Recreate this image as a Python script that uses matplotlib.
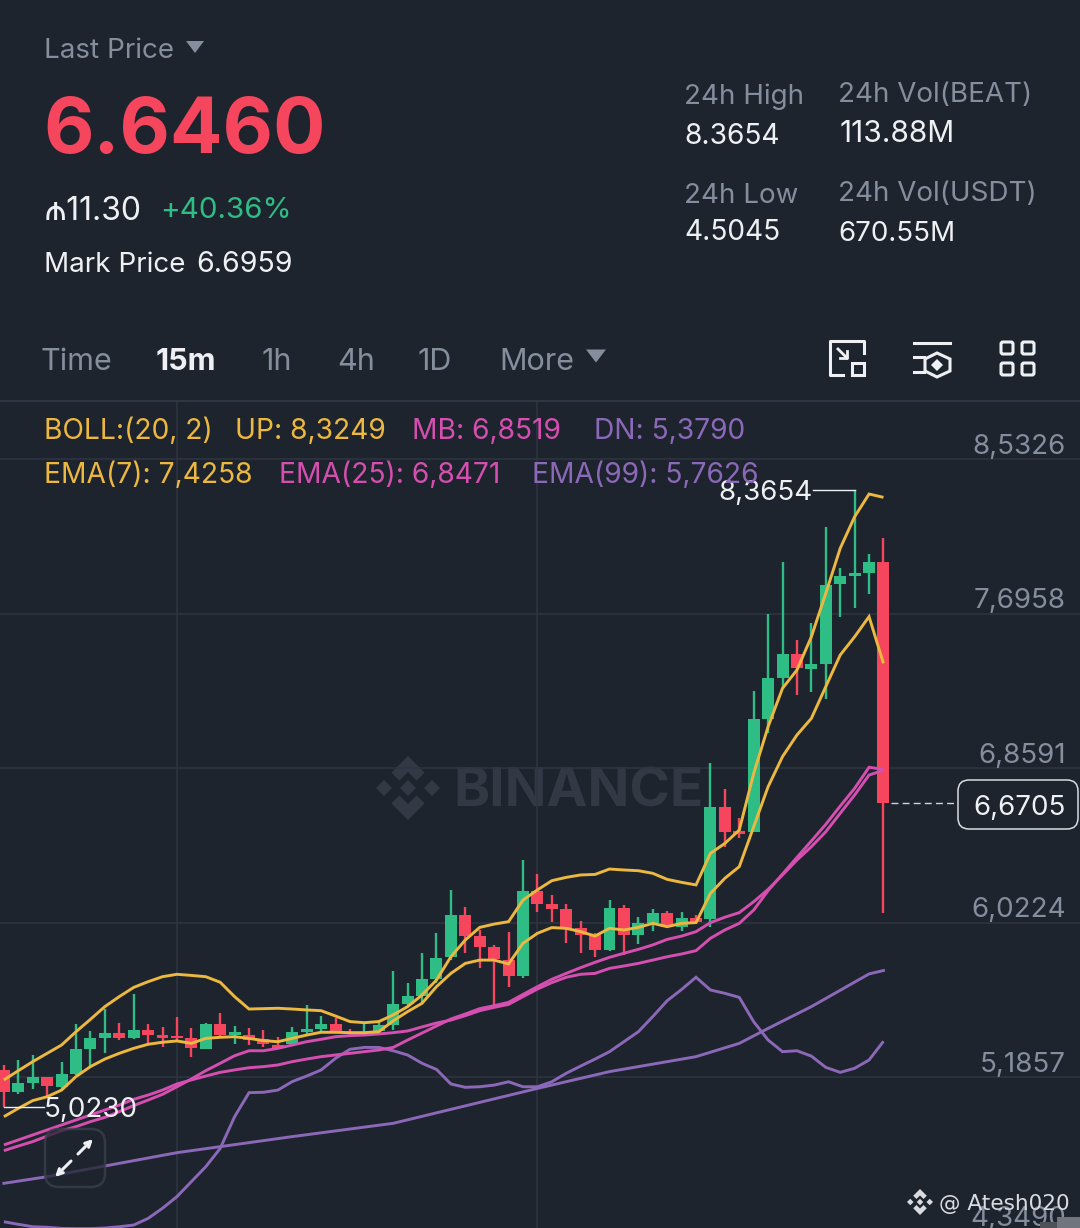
import numpy as np
import matplotlib
matplotlib.use("Agg")
import matplotlib.pyplot as plt
from matplotlib.patches import Polygon, FancyBboxPatch, Rectangle

# candles, one per 15 minutes
opens = [5.224, 5.103, 5.152, 5.184, 5.134, 5.202, 5.336, 5.395, 5.426, 5.395, 5.440, 5.411, 5.410, 5.395, 5.338, 5.473,
         5.413, 5.413, 5.392, 5.359, 5.363, 5.430, 5.444, 5.471, 5.431, 5.426, 5.437, 5.467, 5.581, 5.626, 5.717, 5.834,
         6.063, 5.951, 5.892, 5.819, 5.733, 6.195, 6.123, 6.094, 5.991, 5.955, 5.874, 6.103, 5.955, 6.022, 6.076, 5.996,
         6.045, 6.043, 6.650, 6.520, 6.511, 7.123, 7.347, 7.477, 7.397, 7.421, 7.856, 7.901, 7.917, 7.977]
highs = [5.251, 5.278, 5.305, 5.188, 5.269, 5.471, 5.437, 5.552, 5.476, 5.634, 5.473, 5.458, 5.513, 5.449, 5.480, 5.531,
         5.464, 5.449, 5.440, 5.404, 5.455, 5.576, 5.516, 5.504, 5.446, 5.476, 5.486, 5.760, 5.693, 5.856, 5.964, 6.199,
         6.108, 5.982, 5.901, 5.973, 6.361, 6.283, 6.171, 6.121, 6.031, 5.964, 6.144, 6.117, 6.054, 6.094, 6.085, 6.078,
         6.063, 6.888, 6.745, 6.587, 7.276, 7.693, 7.973, 7.552, 7.643, 8.166, 7.941, 8.3654, 8.018, 8.107]
lows = [5.023, 5.092, 5.119, 5.079, 5.115, 5.197, 5.233, 5.314, 5.386, 5.392, 5.359, 5.350, 5.386, 5.296, 5.338, 5.410,
        5.363, 5.359, 5.350, 5.338, 5.359, 5.413, 5.431, 5.422, 5.413, 5.422, 5.431, 5.440, 5.567, 5.585, 5.693, 5.819,
        5.856, 5.778, 5.576, 5.675, 5.720, 6.078, 6.023, 5.910, 5.856, 5.837, 5.868, 5.847, 5.904, 5.978, 5.991, 5.977,
        6.018, 6.000, 6.433, 6.478, 6.511, 7.047, 7.291, 7.255, 7.269, 7.233, 7.675, 7.728, 7.800, 6.072]
closes = [5.106, 5.152, 5.188, 5.137, 5.202, 5.336, 5.395, 5.426, 5.395, 5.440, 5.411, 5.395, 5.395, 5.341, 5.473, 5.413,
          5.428, 5.386, 5.363, 5.341, 5.430, 5.444, 5.471, 5.431, 5.422, 5.431, 5.467, 5.579, 5.626, 5.717, 5.832, 6.063,
          5.951, 5.892, 5.823, 5.733, 6.195, 6.123, 6.094, 5.991, 5.955, 5.874, 6.099, 5.955, 6.022, 6.076, 5.996, 6.045,
          6.023, 6.650, 6.511, 6.502, 7.123, 7.345, 7.477, 7.399, 7.422, 7.850, 7.899, 7.913, 7.977, 6.6705]

# indicators
boll_up = [5.170, 5.220, 5.269, 5.314, 5.359, 5.431, 5.498, 5.567, 5.621, 5.671, 5.702, 5.729, 5.742, 5.736, 5.729, 5.699,
           5.621, 5.554, 5.556, 5.558, 5.554, 5.549, 5.545, 5.516, 5.486, 5.480, 5.486, 5.522, 5.567, 5.630, 5.711, 5.837,
           5.928, 5.996, 6.014, 6.027, 6.144, 6.199, 6.249, 6.267, 6.280, 6.283, 6.312, 6.307, 6.303, 6.289, 6.256, 6.240,
           6.226, 6.397, 6.451, 6.523, 6.830, 7.083, 7.291, 7.390, 7.570, 7.805, 8.049, 8.220, 8.343, 8.3249]
ema7 = [4.971, 5.016, 5.058, 5.079, 5.115, 5.188, 5.242, 5.283, 5.314, 5.341, 5.363, 5.374, 5.381, 5.368, 5.395, 5.401,
        5.404, 5.395, 5.383, 5.377, 5.395, 5.413, 5.428, 5.428, 5.426, 5.426, 5.431, 5.490, 5.540, 5.585, 5.675, 5.747,
        5.801, 5.819, 5.819, 5.798, 5.910, 5.964, 5.995, 5.991, 5.973, 5.949, 5.991, 5.982, 5.996, 6.018, 6.000, 6.018,
        6.022, 6.180, 6.262, 6.325, 6.541, 6.758, 6.921, 7.038, 7.128, 7.300, 7.471, 7.570, 7.679, 7.4258]
boll_mb = [4.787, 4.812, 4.836, 4.866, 4.895, 4.917, 4.944, 4.967, 4.998, 5.031, 5.061, 5.092, 5.133, 5.175, 5.220, 5.260,
           5.301, 5.328, 5.328, 5.341, 5.359, 5.377, 5.390, 5.404, 5.410, 5.413, 5.419, 5.426, 5.435, 5.457, 5.478, 5.494,
           5.518, 5.545, 5.563, 5.579, 5.621, 5.662, 5.697, 5.726, 5.742, 5.747, 5.774, 5.787, 5.801, 5.819, 5.837, 5.852,
           5.870, 5.937, 5.982, 6.018, 6.090, 6.195, 6.285, 6.375, 6.464, 6.554, 6.653, 6.749, 6.863, 6.8519]
ema25 = [4.818, 4.845, 4.872, 4.899, 4.926, 4.953, 4.980, 5.007, 5.034, 5.065, 5.088, 5.115, 5.148, 5.170, 5.191, 5.211,
         5.224, 5.236, 5.242, 5.251, 5.269, 5.283, 5.296, 5.305, 5.314, 5.323, 5.332, 5.346, 5.386, 5.424, 5.462, 5.500,
         5.527, 5.556, 5.572, 5.590, 5.633, 5.675, 5.715, 5.747, 5.778, 5.807, 5.834, 5.856, 5.877, 5.901, 5.931, 5.949,
         5.973, 6.022, 6.051, 6.076, 6.135, 6.202, 6.280, 6.361, 6.433, 6.514, 6.614, 6.713, 6.821, 6.8471]
boll_dn = [4.402, 4.388, 4.375, 4.372, 4.366, 4.365, 4.365, 4.368, 4.375, 4.384, 4.420, 4.475, 4.538, 4.619, 4.700, 4.799,
           4.971, 5.101, 5.103, 5.115, 5.161, 5.191, 5.224, 5.287, 5.336, 5.346, 5.346, 5.328, 5.305, 5.260, 5.227, 5.148,
           5.130, 5.133, 5.142, 5.160, 5.133, 5.133, 5.160, 5.206, 5.245, 5.283, 5.323, 5.377, 5.431, 5.513, 5.599, 5.660,
           5.726, 5.657, 5.639, 5.617, 5.485, 5.386, 5.323, 5.328, 5.299, 5.238, 5.211, 5.233, 5.278, 5.3790]
ema99_idx = [0, 3, 12, 20, 27, 37, 42, 46, 48, 51, 53, 56, 60, 61]
ema99 = [4.610, 4.646, 4.776, 4.863, 4.935, 5.124, 5.215, 5.269, 5.296, 5.368, 5.449, 5.567, 5.744, 5.7626]

price_ticks = [8.5326, 7.6958, 6.8591, 6.0224, 5.1857, 4.3490]
time_ticks = [12, 37]
last_close = 6.6705
day_high = 8.3654
day_low = 5.0230

W, H = 1080, 1228
BG = "#1e242e"
GRID = "#2f3541"
GREEN = "#2ebd85"
RED = "#f6465d"
YELLOW = "#ecb83f"
PINK = "#d54fb0"
PURPLE = "#8b68b8"
GREY = "#848e9c"
WHITE = "#eef0f3"
FONT = ["Inter", "Noto Sans", "Roboto", "Open Sans", "DejaVu Sans"]


def komma(v):
    return f"{v:.4f}".replace(".", ",")


def logo(ax, cx, cy, s, color, zorder=1):
    # binance mark built from a middle diamond, two side ones and two chevrons
    for dx in (-0.75, 0, 0.75):
        pts = [(dx - 0.25, 0), (dx, 0.25), (dx + 0.25, 0), (dx, -0.25)]
        ax.add_patch(Polygon([(cx + x * s, cy + y * s) for x, y in pts], color=color, lw=0, zorder=zorder))
    chevron = [(0, 1), (0.52, 0.48), (0.27, 0.23), (0, 0.5), (-0.27, 0.23), (-0.52, 0.48)]
    for sign in (1, -1):
        ax.add_patch(Polygon([(cx + x * s, cy + sign * y * s) for x, y in chevron], color=color, lw=0, zorder=zorder))


def tri(ax, cx, cy, w, h, color):
    ax.add_patch(Polygon([(cx - w / 2, cy - h / 2), (cx + w / 2, cy - h / 2), (cx, cy + h / 2)], color=color, lw=0))


fig = plt.figure(figsize=(W / 100, H / 100), dpi=100, facecolor=BG)

# layer under the chart, only the watermark
back = fig.add_axes([0, 0, 1, 1], zorder=0)
back.set_xlim(0, W)
back.set_ylim(H, 0)
back.axis("off")
logo(back, 408, 788, 32, "#333944")
back.text(453, 787, "BINANCE", color="#333944", fontsize=39.5, fontweight="bold", family=FONT, va="center_baseline")

# price chart, px = 3.9 + 14.42 * index and 184.65 px per price unit
ax = fig.add_axes([0, 0, 1, (H - 402) / H], zorder=1)
ax.patch.set_alpha(0)
for s in ax.spines.values():
    s.set_visible(False)
ax.set_xticks(time_ticks)
ax.set_yticks(price_ticks)
ax.set_xlim(-0.27, 74.63)
ax.set_ylim(4.3681, 8.8413)  # after set_yticks, the last tick sits just under the screen
ax.tick_params(length=0, labelleft=False, labelbottom=False)
ax.grid(True, color=GRID, lw=1.1)
ax.set_axisbelow(True)

idx = np.arange(len(opens))
o = np.array(opens)
c = np.array(closes)
kolory = [GREEN if b >= a else RED for a, b in zip(opens, closes)]
ax.vlines(idx, lows, highs, colors=kolory, lw=1.7, zorder=2)
ax.bar(idx, np.abs(c - o), bottom=np.minimum(o, c), width=0.83, color=kolory, lw=0, zorder=3)

for seria, kolor in [(boll_dn, PURPLE), (ema25, PINK), (boll_mb, PINK), (ema7, YELLOW), (boll_up, YELLOW)]:
    ax.plot(idx, seria, color=kolor, lw=2.1, zorder=4, solid_joinstyle="miter", solid_capstyle="butt")
ax.plot(ema99_idx, ema99, color=PURPLE, lw=2.1, zorder=4)

# high / low markers and last price line
ax.plot([59, 56.1], [day_high, day_high], color=WHITE, lw=1, zorder=5)
ax.text(56.1, day_high, komma(day_high), color=WHITE, fontsize=20, family=FONT, ha="right", va="center_baseline", zorder=5)
ax.plot([0, 2.75], [day_low, day_low], color=WHITE, lw=1, zorder=5)
ax.text(2.75, day_low, komma(day_low), color=WHITE, fontsize=20, family=FONT, ha="left", va="center_baseline", zorder=5)
ax.plot([61.5, 66.2], [last_close, last_close], color="#cfd2d8", lw=1, ls=(0, (5, 3)), zorder=5)

# price labels above their grid lines
for p in price_ticks:
    ax.text(1066 / W, p - 0.004, komma(p), color=GREY, fontsize=20, family=FONT, ha="right", va="bottom",
            transform=ax.get_yaxis_transform(), zorder=5)

# everything else of the app screen, in pixels
ui = fig.add_axes([0, 0, 1, 1], zorder=2)
ui.patch.set_alpha(0)
ui.set_xlim(0, W)
ui.set_ylim(H, 0)
ui.axis("off")


def t(x, y, s, color=WHITE, size=20, weight="normal", ha="left"):
    ui.text(x, y, s, color=color, fontsize=size, fontweight=weight, family=FONT, ha=ha, va="center_baseline")


t(44, 48, "Last Price", GREY, 20)
tri(ui, 195, 47, 18, 12, GREY)
t(43, 125, "6.6460", RED, 56, "bold")
t(44, 208, "₼11.30", WHITE, 23)
t(160, 208, "+40.36%", GREEN, 21.3)
t(44, 262, "Mark Price", WHITE, 20)
t(196, 262, "6.6959", WHITE, 20.5)

t(684, 94, "24h High", GREY, 20)
t(684, 133, "8.3654", WHITE, 20.3)
t(684, 193, "24h Low", GREY, 20)
t(684, 229, "4.5045", WHITE, 20.3)
t(838, 92, "24h Vol(BEAT)", GREY, 20)
t(840, 131, "113.88M", WHITE, 21.5)
t(838, 191, "24h Vol(USDT)", GREY, 20)
t(838, 231, "670.55M", WHITE, 20)

for x, s in [(41, "Time"), (262, "1h"), (337, "4h"), (418, "1D"), (499, "More")]:
    t(x, 359, s, GREY, 22)
t(156, 359, "15m", WHITE, 22, "bold")
tri(ui, 596, 356, 20, 13, GREY)

# toolbar icons
ui.plot([864, 864, 830, 830, 843], [353, 341, 341, 375, 375], color=WHITE, lw=2.2)
ui.add_patch(Rectangle((852, 363), 12, 12, fill=False, ec=WHITE, lw=2.2))
ui.plot([838, 847], [349, 358], color=WHITE, lw=2)
ui.plot([840, 847, 847], [358, 358, 351], color=WHITE, lw=2)
ui.plot([914, 950], [343, 343], color=WHITE, lw=2.2)
ui.plot([914, 924], [357, 357], color=WHITE, lw=2.2)
ui.plot([914, 924], [372, 372], color=WHITE, lw=2.2)
hexa = [(937, 353), (950, 359), (950, 371), (937, 377), (925, 371), (925, 359)]
ui.add_patch(Polygon(hexa, closed=True, fill=False, ec=WHITE, lw=2.2))
ui.add_patch(Polygon([(937, 359), (943, 365), (937, 371), (931, 365)], color=WHITE, lw=0))
for x in (1000, 1021):
    for y in (341, 362):
        ui.add_patch(FancyBboxPatch((x + 1, y + 1), 12, 12, boxstyle="round,pad=0,rounding_size=2",
                                    fill=False, ec=WHITE, lw=2.2))

ui.plot([0, W], [401, 401], color=GRID, lw=1.6)

# indicator legend
for x, s, kolor in [(44, "BOLL:(20, 2)", YELLOW), (235, "UP: 8,3249", YELLOW), (412, "MB: 6,8519", PINK), (594, "DN: 5,3790", PURPLE)]:
    t(x, 428, s, kolor, 20.3)
for x, s, kolor in [(44, "EMA(7): 7,4258", YELLOW), (279, "EMA(25): 6,8471", PINK), (532, "EMA(99): 5,7626", PURPLE)]:
    t(x, 472, s, kolor, 20.3)

# last price box
ui.add_patch(FancyBboxPatch((958, 780), 120, 49, boxstyle="round,pad=0,rounding_size=11", fc=BG, ec="#d8dbe0", lw=1.1))
t(1020, 805, komma(last_close), WHITE, 20, ha="center")

# expand button
ui.add_patch(FancyBboxPatch((45, 1129), 60, 58, boxstyle="round,pad=0,rounding_size=14", fc=BG, ec="#3b414d", lw=1.8, alpha=0.75))
ui.annotate("", xy=(93, 1139), xytext=(78, 1154), arrowprops=dict(arrowstyle="->", color=WHITE, lw=2.2, shrinkA=0, shrinkB=0))
ui.annotate("", xy=(55, 1177), xytext=(71, 1161), arrowprops=dict(arrowstyle="->", color=WHITE, lw=2.2, shrinkA=0, shrinkB=0))

# attribution in the corner
logo(ui, 920, 1202, 13, "#d9dbe0", zorder=5)
ui.text(939, 1202, "@ Atesh020", color="#d9dbe0", fontsize=15.6, family="DejaVu Sans", va="center_baseline", zorder=6)
ui.add_patch(Rectangle((1057, 1217), 23, 11, color="#70757e", lw=0))
ui.add_patch(Rectangle((1040, 1222), 17, 6, color="#4c515a", lw=0))

fig.savefig("out.png", dpi=100, facecolor=BG)
